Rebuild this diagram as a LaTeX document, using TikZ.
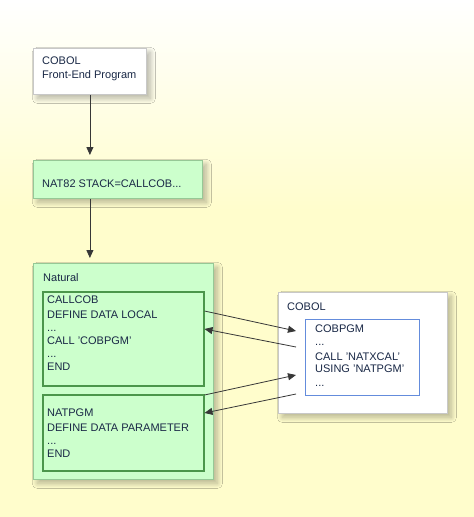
\documentclass[tikz,border=0pt]{standalone}
\usepackage{fontspec}
\setmainfont{Liberation Sans}
\usetikzlibrary{arrows.meta,calc,shadows.blur}
\definecolor{bgyellow}{RGB}{255,253,204}
\definecolor{natgreen}{RGB}{204,255,204}
\definecolor{greenline}{RGB}{150,200,150}
\definecolor{innergreen}{RGB}{75,150,75}
\definecolor{cobblue}{RGB}{100,140,220}
\definecolor{boxgray}{RGB}{200,200,200}
\definecolor{textblue}{RGB}{25,40,70}
\definecolor{arrowgray}{RGB}{55,55,55}
\begin{document}
\begin{tikzpicture}[>={Triangle[length=8pt,width=7pt]},x=1pt,y=-1pt,
	hop/.style={draw=#1,line width=0.8pt,rectangle,inner sep=0pt,anchor=north west},
	bong/.style={blur shadow={shadow xshift=4pt,shadow yshift=-4pt,shadow blur radius=5pt,shadow blur steps=25,shadow opacity=30}},
	chu/.style={text=textblue,inner sep=0pt,align=left,anchor=north west,font=\fontsize{11}{15}\selectfont},
	mui/.style={draw=arrowgray,line width=0.8pt,->}]
	\useasboundingbox (0,0) rectangle (474,517);
	\shade[top color=white,bottom color=bgyellow] (0,0) rectangle (474,211); % nền chuyển màu
	\fill[bgyellow] (0,210) rectangle (474,517);
	% chương trình COBOL ban đầu
	\node[hop=boxgray,fill=white,bong,minimum width=113pt,minimum height=46pt] (front) at (33,48) {};
	\node[chu,font=\fontsize{11}{14}\selectfont] (fronttxt) at (42,57) {COBOL\\Front-End Program};
	\node[hop=greenline,fill=natgreen,bong,minimum width=169pt,minimum height=38pt] (nat) at (33,160) {};
	\node[chu,anchor=base west] (nattxt) at (42,187) {NAT82 STACK=CALLCOB...};
	% khối Natural
	\node[hop=greenline,fill=natgreen,bong,minimum width=180pt,minimum height=216pt] (natural) at (33,263) {};
	\node[chu,anchor=base west] (naturaltxt) at (43,281) {Natural};
	\node[hop=innergreen,line width=1.5pt,minimum width=161pt,minimum height=94pt] (callcob) at (42,291) {};
	\node[chu] (callcobtxt) at (47,296) {CALLCOB\\DEFINE DATA LOCAL\\[-2pt]...\\[-2pt]CALL 'COBPGM'\\[-2pt]...\\[-2pt]END};
	\node[hop=innergreen,line width=1.5pt,minimum width=161pt,minimum height=76pt] (natpgm) at (42,394) {};
	\node[chu] (natpgmtxt) at (47,409) {NATPGM\\DEFINE DATA PARAMETER\\[-2pt]...\\[-2pt]END};
	% khối COBOL
	\node[hop=boxgray,fill=white,bong,minimum width=169pt,minimum height=121pt] (cobol) at (278,292) {};
	\node[chu,anchor=base west] (coboltxt) at (287,310) {COBOL};
	\node[hop=cobblue,line width=1.3pt,minimum width=114pt,minimum height=76pt] (cobpgm) at (305,319) {};
	\node[chu,font=\fontsize{11}{12}\selectfont] (cobpgmtxt) at (315,325) {COBPGM\\[1pt]...\\[3pt]CALL 'NATXCAL'\\USING 'NATPGM'\\[2pt]...};
	% các mũi tên
	\draw[mui,shorten >=5pt] (front.south) -- (front.south |- nat.north);
	\draw[mui,shorten >=5pt] (front.south |- nat.south) -- (front.south |- natural.north);
	\coordinate (l1) at ($(callcob.north east)+(0,20)$); \coordinate (r1) at ($(cobpgm.north west)+(-9,12)$);
	\coordinate (l2) at ($(callcob.north east)+(0,38)$); \coordinate (r2) at ($(cobpgm.north west)+(-9,28)$);
	\coordinate (l3) at ($(natpgm.north east)+(0,1)$);   \coordinate (r3) at ($(cobpgm.north west)+(-9,56)$);
	\coordinate (l4) at ($(natpgm.north east)+(0,19)$);  \coordinate (r4) at ($(cobpgm.north west)+(-9,75)$);
	\draw[mui] (l1) -- (r1);
	\draw[mui] (r2) -- (l2);
	\draw[mui] (l3) -- (r3);
	\draw[mui] (r4) -- (l4);
\end{tikzpicture}
\end{document}
